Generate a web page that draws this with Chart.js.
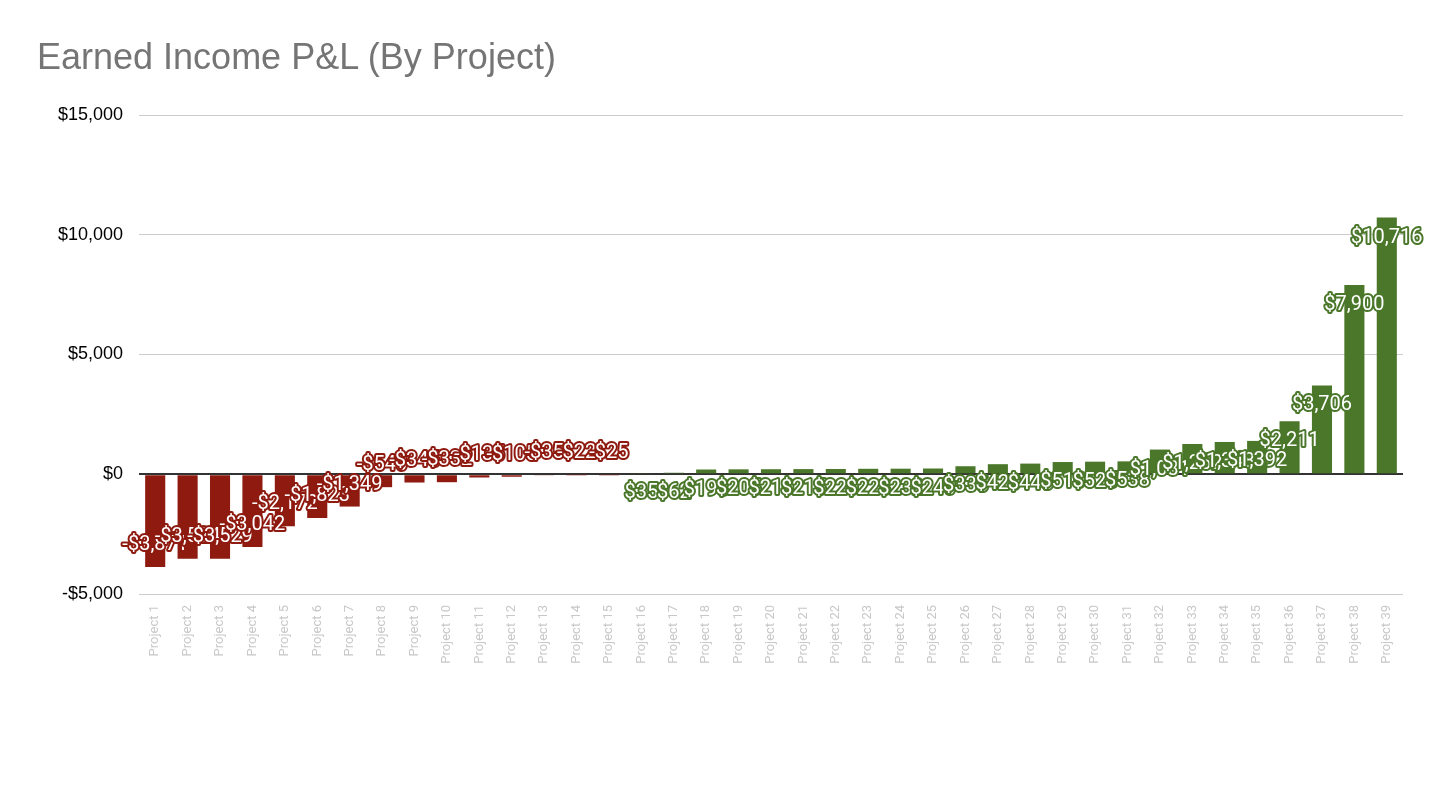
<!DOCTYPE html>
<html><head><meta charset="utf-8">
<script src="https://cdn.jsdelivr.net/npm/chart.js@4/dist/chart.umd.min.js"></script>
<style>html,body{margin:0;padding:0;background:#fff;}#wrap{position:relative;width:1439px;height:790px;}
#title{position:absolute;left:37px;top:36px;font:36px "Liberation Sans",Arial,sans-serif;color:#757575;}</style>
</head><body><div id="wrap"><div id="title">Earned Income P&amp;L (By Project)</div><canvas id="c" width="1439" height="790"></canvas></div>
<script>
const redValues = [-3871,-3524,-3529,-3042,-2172,-1823,-1349,-540,-345,-332,-135,-105,-35,-22,-25];
const greenValues = [35,62,198,205,210,215,220,228,232,240,335,420,445,510,525,538,1031,1262,1348,1392,2211,3706,7900,10716];
const values = redValues.concat(greenValues);
const categories = values.map((v,i)=>'Project '+(i+1));
const yTicks = [-5000,0,5000,10000,15000];
const RED='#8e1a10', GREEN='#4a7729';
const colors = values.map(v=>v<0?RED:GREEN);
const fmt = v => (v<0?'-':'')+'$'+Math.abs(v).toLocaleString('en-US');
const labelPlugin = {id:'lbl', afterDatasetsDraw(chart){
  const ctx=chart.ctx, meta=chart.getDatasetMeta(0);
  ctx.save(); ctx.font='20px Roboto, Arial, sans-serif'; ctx.textAlign='center'; ctx.textBaseline='middle';
  ctx.lineJoin='round';
  meta.data.forEach((bar,i)=>{
    const v=values[i]; const y = v<0 ? bar.y-22 : bar.y+20;
    ctx.lineWidth=4; ctx.strokeStyle=colors[i]; ctx.strokeText(fmt(v),bar.x,y);
    ctx.fillStyle='#fff'; ctx.fillText(fmt(v),bar.x,y);
  });
  ctx.restore();
}};
new Chart(document.getElementById('c'),{
  type:'bar',
  data:{labels:categories,datasets:[{data:values,backgroundColor:colors,categoryPercentage:0.62,barPercentage:1}]},
  options:{responsive:false,animation:false,
    layout:{padding:{top:115,right:36,bottom:40,left:0}},
    plugins:{legend:{display:false},tooltip:{enabled:false}},
    scales:{
      x:{grid:{display:false},border:{display:false},
        ticks:{color:'#c8c8c8',font:{size:13,family:'Roboto'},minRotation:90,maxRotation:90,autoSkip:false},
        afterFit(s){s.height=156;}},
      y:{min:-5000,max:15000,afterBuildTicks(s){s.ticks=yTicks.map(v=>({value:v}));},
        afterFit(s){s.width=139;},
        border:{display:false},
        grid:{color:c=>c.tick&&c.tick.value===0?'#333':'#ccc',lineWidth:c=>c.tick&&c.tick.value===0?2:1,drawTicks:false},
        ticks:{color:'#000',font:{size:18,family:'"Liberation Sans", Arial'},padding:16,callback:v=>fmt(v)}}
    }},
  plugins:[labelPlugin]
});
</script></body></html>
